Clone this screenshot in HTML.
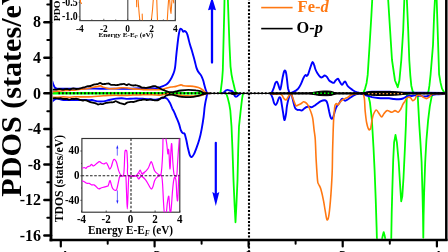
<!DOCTYPE html>
<html><head><meta charset="utf-8"><title>PDOS</title>
<style>html,body{margin:0;padding:0;background:#fff;overflow:hidden}svg{display:block}</style>
</head><body>
<svg width="448" height="252" viewBox="0 0 448 252">
<rect width="448" height="252" fill="#fff"/>
<text transform="translate(21.2,196.7) rotate(-90) scale(1.005,1)" font-family="Liberation Serif, serif" font-weight="bold" font-size="30" fill="#000">PDOS (states/eV)</text>
<g clip-path="url(#clipmain)"><g transform="translate(0,0.3)">
<line x1="52" y1="93.07" x2="208" y2="93.07" stroke="#00ff00" stroke-width="2.5"/>
<path d="M220.0,92.9 L220.7,91.1 L221.4,85.4 L222.1,79.7 L222.8,70.0 L223.3,50.0 L223.8,30.0 L224.3,10.0 L224.6,-6.0 L227.6,-6.0 L227.9,0.0 L228.6,20.0 L229.5,45.0 L230.5,66.0 L231.5,74.0 L232.6,79.7 L234.0,85.4 L235.0,90.0 L236.4,92.9 L238.0,93.1" fill="none" stroke="#00ff00" stroke-width="1.8" stroke-linejoin="round" stroke-linecap="round" />
<path d="M362.0,93.1 L363.5,92.4 L365.1,88.3 L366.6,82.6 L367.7,74.6 L369.6,44.8 L371.4,14.9 L372.2,0.0 L372.5,-6.0 L387.9,-6.0 L388.2,0.0 L390.1,29.9 L392.0,59.7 L395.0,80.2 L397.7,86.9 L399.4,80.2 L401.3,59.7 L403.2,29.9 L404.3,0.0 L404.6,-6.0 L406.6,-6.0 L406.9,0.0 L408.2,30.0 L409.3,60.0 L410.3,75.0 L411.3,85.4 L412.7,91.2 L414.4,92.6 L418.0,93.1" fill="none" stroke="#00ff00" stroke-width="1.8" stroke-linejoin="round" stroke-linecap="round" />
<path d="M427.0,93.1 L428.4,91.5 L429.4,85.4 L430.6,74.0 L433.0,44.8 L434.1,14.9 L434.9,0.0 L435.2,-6.0 L436.5,-6.0 L436.7,0.0 L437.9,37.3 L439.1,74.0 L440.6,82.6 L442.0,88.3 L444.1,91.9 L446.0,92.6" fill="none" stroke="#00ff00" stroke-width="1.8" stroke-linejoin="round" stroke-linecap="round" />
<path d="M225.5,93.1 L226.4,93.5 L227.9,98.3 L229.3,104.0 L230.3,110.0 L231.5,126.0 L232.5,150.0 L233.5,180.0 L234.6,205.0 L235.5,222.0 L236.4,205.0 L237.5,180.0 L238.2,150.0 L239.0,126.0 L240.7,110.0 L241.4,104.0 L242.1,98.3 L242.9,93.5 L244.0,93.1" fill="none" stroke="#00ff00" stroke-width="1.8" stroke-linejoin="round" stroke-linecap="round" />
<path d="M366.5,93.1 L367.9,93.5 L369.9,101.9 L371.9,119.8 L373.5,147.2 L374.6,170.0 L375.7,198.6 L376.6,227.1 L376.9,238.6 L377.2,241.5 L381.5,241.5 L382.6,236.0 L383.7,231.8 L384.8,236.0 L385.8,241.5 L391.2,241.5 L391.4,230.0 L391.7,212.9 L392.3,190.0 L393.2,160.0 L394.1,142.0 L395.5,134.5 L396.9,142.0 L398.7,161.7 L400.0,183.0 L401.2,201.0 L402.3,196.0 L403.5,177.6 L405.0,145.9 L405.9,125.0 L406.5,105.0 L406.8,95.0 L408.0,93.1" fill="none" stroke="#00ff00" stroke-width="1.8" stroke-linejoin="round" stroke-linecap="round" />
<path d="M416.8,93.1 L417.7,95.0 L418.5,109.8 L419.3,125.0 L420.3,140.0 L421.6,161.7 L422.5,193.5 L423.0,215.0 L423.3,237.5 L423.6,215.0 L424.1,193.5 L425.2,161.7 L426.4,140.0 L428.1,120.0 L429.8,106.0 L431.5,97.0 L432.8,93.1" fill="none" stroke="#00ff00" stroke-width="1.8" stroke-linejoin="round" stroke-linecap="round" />
<path d="M52.0,101.5 C52.5,101.1 53.9,99.5 54.9,99.0 C55.9,98.5 56.3,98.2 57.7,98.3 C59.1,98.4 61.5,99.5 63.4,99.7 C65.3,99.9 67.2,99.7 69.1,99.7 C71.0,99.7 73.0,99.7 74.9,99.7 C76.8,99.7 78.7,99.7 80.6,99.7 C82.5,99.7 84.9,99.7 86.3,99.7 C87.7,99.8 88.1,100.0 89.1,100.0 C90.0,100.0 90.6,99.5 92.0,99.7 C93.4,99.9 95.8,100.9 97.7,101.1 C99.6,101.3 101.5,101.3 103.4,101.1 C105.3,100.9 107.0,100.2 109.1,99.7 C111.2,99.2 113.9,98.6 116.0,98.3 C118.1,98.0 119.8,98.0 121.7,98.0 C123.6,98.0 125.5,98.5 127.4,98.6 C129.3,98.6 131.2,98.3 133.1,98.3 C135.0,98.2 137.0,98.2 138.9,98.3 C140.8,98.3 142.7,98.5 144.6,98.6 C146.5,98.7 148.6,98.8 150.3,99.0 C152.0,99.2 153.3,99.5 154.6,99.5 C155.9,99.5 156.9,99.2 158.0,99.0 C159.1,98.8 159.9,98.3 161.0,98.0 C162.1,97.7 163.7,97.3 164.8,97.4 C165.8,97.5 166.4,97.8 167.2,98.6 C168.1,99.4 168.9,100.8 169.8,102.4 C170.6,104.0 171.5,106.3 172.2,108.0 C173.0,109.7 173.8,110.8 174.5,112.5 C175.2,114.2 175.9,116.0 176.7,117.9 C177.5,119.8 178.4,121.8 179.1,123.8 C179.8,125.8 180.2,128.3 180.8,129.8 C181.4,131.3 182.1,132.3 182.7,132.9 C183.3,133.5 184.0,132.4 184.6,133.5 C185.2,134.6 185.6,137.0 186.2,139.3 C186.8,141.7 187.3,145.0 187.9,147.6 C188.5,150.2 189.2,153.3 189.8,154.8 C190.4,156.3 191.0,156.9 191.7,156.7 C192.4,156.5 193.3,155.1 194.1,153.6 C194.9,152.1 195.6,150.0 196.5,147.6 C197.4,145.2 198.4,142.5 199.3,139.3 C200.2,136.1 201.0,132.4 201.7,128.6 C202.4,124.8 203.1,120.3 203.6,116.7 C204.1,113.1 204.3,109.6 204.6,107.1 C204.9,104.6 205.2,103.2 205.5,101.5 C205.8,99.8 206.2,98.3 206.5,97.0 C206.8,95.7 206.9,94.2 207.3,93.6 C207.7,92.9 208.7,93.2 209.0,93.1" fill="none" stroke="#0000ff" stroke-width="1.9" stroke-linejoin="round" stroke-linecap="round" />
<path d="M233.3,93.1 C233.5,93.3 234.0,94.1 234.3,94.6 C234.7,95.1 235.0,96.0 235.4,96.3 C235.8,96.6 236.3,96.5 236.8,96.2 C237.3,95.9 238.0,95.1 238.6,94.6 C239.2,94.1 240.2,93.5 240.5,93.3" fill="none" stroke="#0000ff" stroke-width="1.9" stroke-linejoin="round" stroke-linecap="round" />
<path d="M270.5,93.1 C270.9,93.8 272.0,96.0 272.6,97.6 C273.2,99.2 273.5,101.4 274.0,102.6 C274.5,103.8 275.2,104.7 275.7,104.7 C276.2,104.7 276.6,103.7 277.1,102.6 C277.6,101.5 278.2,99.2 278.6,98.3 C279.0,97.3 279.3,96.8 279.7,96.9 C280.1,97.0 280.3,96.5 280.9,99.0 C281.4,101.5 282.4,108.4 283.0,111.9 C283.6,115.4 283.9,119.5 284.4,119.8 C284.9,120.1 285.6,116.2 286.0,113.9 C286.4,111.6 286.5,108.4 286.9,106.0 C287.3,103.6 287.8,101.4 288.3,99.5 C288.8,97.6 289.2,95.7 289.7,94.7 C290.2,93.7 290.8,92.7 291.3,93.4 C291.8,94.1 292.2,97.0 292.7,98.8 C293.1,100.6 293.6,102.6 294.0,104.2 C294.4,105.8 294.8,107.3 295.4,108.2 C296.0,109.1 296.7,109.4 297.4,109.6 C298.1,109.8 298.7,109.5 299.4,109.6 C300.1,109.7 300.8,110.3 301.5,110.2 C302.2,110.1 302.7,109.5 303.5,108.9 C304.3,108.4 305.3,107.4 306.2,106.9 C307.1,106.5 308.0,106.2 308.9,106.2 C309.8,106.2 310.7,107.0 311.6,106.9 C312.5,106.8 313.4,106.1 314.3,105.5 C315.2,104.9 315.9,104.3 317.0,103.5 C318.1,102.7 319.8,101.4 321.0,100.8 C322.2,100.2 323.5,99.9 324.4,99.9 C325.3,99.9 325.8,100.1 326.4,100.8 C326.9,101.5 327.2,102.5 327.7,104.2 C328.1,105.9 328.7,108.9 329.1,110.9 C329.6,112.9 329.9,115.0 330.4,116.3 C330.8,117.6 331.4,118.4 331.8,118.5 C332.2,118.6 332.7,118.0 333.1,117.0 C333.6,116.0 334.1,113.8 334.5,112.3 C334.9,110.8 335.4,109.3 335.8,108.2 C336.2,107.1 336.6,106.4 337.2,105.5 C337.8,104.6 338.6,103.8 339.2,103.0 C339.8,102.2 340.0,101.3 340.5,100.5 C341.0,99.7 341.5,98.3 342.3,98.3 C343.1,98.3 344.2,100.3 345.1,100.4 C346.1,100.5 347.0,99.6 348.0,99.0 C349.0,98.4 349.9,97.6 350.9,96.9 C351.8,96.2 352.8,95.6 353.7,95.1 C354.6,94.6 355.7,94.0 356.6,93.7 C357.6,93.4 358.5,93.2 359.4,93.2 C360.3,93.2 360.9,93.3 362.0,93.6 C363.1,93.9 364.3,94.5 366.0,95.0 C367.7,95.5 370.0,96.3 372.0,96.8 C374.0,97.2 376.0,97.5 378.0,97.7 C380.0,97.9 382.2,97.9 384.0,97.9 C385.8,98.0 387.3,97.9 389.0,98.0 C390.7,98.1 392.3,98.5 394.0,98.7 C395.7,98.9 397.5,99.1 399.0,99.0 C400.5,98.9 401.8,98.7 403.0,98.2 C404.2,97.8 405.5,96.8 406.5,96.3 C407.5,95.8 408.2,95.5 409.1,95.4 C410.0,95.3 411.0,95.8 412.0,95.7 C413.0,95.7 413.9,95.1 414.9,95.1 C415.8,95.0 416.8,95.4 417.7,95.4 C418.6,95.5 419.7,95.3 420.6,95.4 C421.6,95.5 422.4,96.0 423.4,96.1 C424.3,96.2 425.4,96.2 426.3,96.1 C427.2,96.0 428.2,95.6 429.1,95.4 C430.1,95.2 430.9,94.9 432.0,94.7 C433.1,94.5 433.7,94.2 436.0,94.0 C438.3,93.8 444.3,93.6 446.0,93.5" fill="none" stroke="#0000ff" stroke-width="1.9" stroke-linejoin="round" stroke-linecap="round" />
<path d="M52.3,81.0 C52.5,81.6 53.0,83.4 53.5,84.5 C54.0,85.6 54.4,86.8 55.0,87.4 C55.6,88.1 56.2,88.2 57.0,88.4 C57.8,88.6 57.8,88.5 60.0,88.5 C62.2,88.5 66.7,88.3 70.0,88.3 C73.3,88.3 76.7,88.5 80.0,88.5 C83.3,88.5 86.7,88.2 90.0,88.2 C93.3,88.2 96.7,88.5 100.0,88.5 C103.3,88.5 106.7,88.3 110.0,88.3 C113.3,88.3 116.7,88.4 120.0,88.4 C123.3,88.4 126.4,88.6 130.0,88.5 C133.6,88.4 138.8,88.0 141.7,88.0 C144.6,88.0 145.5,88.3 147.4,88.3 C149.3,88.3 151.7,88.0 153.1,88.0 C154.5,88.0 154.9,88.3 156.0,88.1 C157.1,87.9 158.5,87.3 159.8,86.9 C161.0,86.5 162.2,86.2 163.5,85.6 C164.8,85.0 166.2,84.4 167.3,83.4 C168.4,82.4 169.3,81.3 170.3,79.7 C171.3,78.1 172.3,76.0 173.1,74.0 C173.9,72.0 174.4,71.4 175.0,67.6 C175.6,63.8 176.1,56.1 176.7,51.0 C177.3,45.9 177.9,40.3 178.4,36.7 C178.9,33.1 179.4,30.9 179.8,29.5 C180.2,28.1 180.4,28.3 180.8,28.3 C181.2,28.3 181.8,29.0 182.2,29.5 C182.6,30.0 182.7,31.2 183.1,31.4 C183.5,31.6 184.1,30.6 184.6,30.7 C185.1,30.8 185.7,31.3 186.2,31.9 C186.7,32.5 187.0,33.1 187.4,34.3 C187.8,35.5 188.2,37.4 188.6,39.0 C189.0,40.6 189.3,42.0 189.8,43.8 C190.3,45.6 191.1,47.8 191.7,49.8 C192.3,51.8 192.8,53.7 193.4,55.7 C194.0,57.7 194.5,59.7 195.0,61.7 C195.5,63.7 196.0,66.0 196.5,67.6 C197.0,69.2 197.5,70.1 198.1,71.2 C198.7,72.3 199.7,73.0 200.3,74.0 C201.0,75.0 201.5,75.9 202.0,77.0 C202.5,78.1 202.9,79.2 203.3,80.5 C203.7,81.8 203.9,82.9 204.3,84.5 C204.7,86.1 205.4,88.6 205.9,90.0 C206.4,91.4 206.7,92.3 207.2,92.8 C207.7,93.3 208.7,93.0 209.0,93.1" fill="none" stroke="#0000ff" stroke-width="1.9" stroke-linejoin="round" stroke-linecap="round" />
<path d="M222.8,93.0 C223.1,92.8 223.9,92.1 224.4,91.6 C224.9,91.1 225.4,90.3 226.0,90.0 C226.6,89.7 227.3,89.5 228.0,89.6 C228.7,89.6 229.3,90.1 230.0,90.3 C230.7,90.5 231.4,90.5 232.0,90.8 C232.6,91.1 232.9,91.8 233.3,92.2 C233.7,92.6 234.0,92.9 234.2,93.1" fill="none" stroke="#0000ff" stroke-width="1.9" stroke-linejoin="round" stroke-linecap="round" />
<path d="M270.5,93.2 C270.7,93.1 271.2,93.3 271.7,92.5 C272.2,91.7 272.9,90.0 273.5,88.4 C274.1,86.8 274.8,84.1 275.3,82.9 C275.9,81.7 276.3,81.2 276.8,81.4 C277.3,81.6 277.6,82.5 278.1,83.8 C278.6,85.1 279.4,89.0 279.9,89.3 C280.4,89.6 280.8,87.6 281.2,85.6 C281.6,83.6 282.1,79.8 282.6,77.4 C283.1,75.0 283.6,72.2 284.1,71.0 C284.6,69.8 285.0,70.0 285.4,70.5 C285.8,71.0 286.0,72.0 286.3,73.8 C286.6,75.6 286.9,78.7 287.2,81.1 C287.5,83.5 287.7,86.4 288.1,88.4 C288.6,90.4 289.3,92.3 289.9,93.0 C290.5,93.7 290.9,92.8 291.8,92.4 C292.7,92.0 294.3,91.3 295.4,90.6 C296.5,89.9 297.3,89.5 298.2,88.4 C299.1,87.3 300.0,85.6 300.9,83.8 C301.8,82.0 302.8,78.9 303.6,77.4 C304.4,75.9 305.0,75.0 305.5,74.7 C306.0,74.4 306.4,75.8 306.8,75.6 C307.2,75.4 307.7,75.0 308.2,73.8 C308.7,72.6 309.4,70.1 310.0,68.3 C310.6,66.5 311.4,63.9 311.9,62.8 C312.4,61.7 312.4,61.6 312.8,61.9 C313.2,62.2 313.7,63.4 314.1,64.6 C314.6,65.8 314.9,67.8 315.5,69.2 C316.1,70.6 316.6,71.7 317.4,72.9 C318.2,74.1 319.4,75.8 320.1,76.5 C320.9,77.2 321.1,77.3 321.9,77.1 C322.7,76.9 323.9,75.3 324.7,75.2 C325.5,75.1 326.1,75.7 326.9,76.5 C327.6,77.3 328.3,79.3 329.2,80.2 C330.1,81.1 331.2,81.6 332.0,82.0 C332.8,82.4 333.2,82.8 333.8,82.5 C334.4,82.2 334.9,80.9 335.6,80.2 C336.3,79.5 337.4,78.4 338.0,78.5 C338.6,78.6 338.8,80.0 339.5,81.0 C340.2,82.0 341.2,84.3 342.0,84.5 C342.8,84.7 343.4,82.5 344.0,82.0 C344.6,81.5 344.9,80.9 345.5,81.5 C346.1,82.1 346.6,84.3 347.5,85.5 C348.4,86.7 349.9,87.7 350.9,88.5 C351.9,89.3 352.8,89.8 353.7,90.4 C354.6,91.0 355.7,91.5 356.6,91.9 C357.6,92.3 358.4,92.4 359.4,92.6 C360.3,92.8 360.2,93.2 362.3,93.0 C364.4,92.8 367.4,91.8 372.0,91.5 C376.6,91.2 385.3,91.4 390.0,91.5 C394.7,91.6 390.7,92.1 400.0,92.3 C409.3,92.5 438.3,92.5 446.0,92.6" fill="none" stroke="#0000ff" stroke-width="1.9" stroke-linejoin="round" stroke-linecap="round" />
<path d="M52.0,91.5 C53.0,91.4 55.8,91.0 57.7,90.8 C59.6,90.6 61.5,90.5 63.4,90.4 C65.3,90.3 67.2,90.2 69.1,90.1 C71.0,90.0 73.0,90.0 74.9,89.8 C76.8,89.6 78.7,89.2 80.6,89.0 C82.5,88.8 84.4,88.7 86.3,88.4 C88.2,88.1 90.1,87.6 92.0,87.2 C93.9,86.8 96.3,86.3 97.7,86.1 C99.1,85.8 99.6,85.5 100.6,85.6 C101.5,85.8 102.0,86.5 103.4,87.0 C104.8,87.4 107.0,88.2 109.1,88.4 C111.2,88.6 113.9,88.3 116.0,88.2 C118.1,88.0 119.8,87.6 121.7,87.5 C123.6,87.4 125.5,87.5 127.4,87.7 C129.3,87.9 131.2,88.4 133.1,88.6 C135.0,88.8 137.0,88.8 138.9,88.9 C140.8,89.0 142.7,89.2 144.6,89.3 C146.5,89.4 148.4,89.3 150.3,89.3 C152.2,89.3 154.2,89.4 156.0,89.4 C157.8,89.4 159.3,89.4 161.0,89.2 C162.7,89.0 164.3,88.4 166.0,88.0 C167.7,87.6 169.3,87.0 171.0,86.7 C172.7,86.4 174.3,86.4 176.0,86.1 C177.7,85.8 179.8,84.7 181.0,84.6 C182.2,84.5 182.2,85.3 183.5,85.5 C184.8,85.7 186.8,85.8 188.5,85.8 C190.2,85.9 191.8,85.8 193.5,86.1 C195.2,86.3 197.0,86.8 198.5,87.3 C200.0,87.9 201.2,88.5 202.2,89.2 C203.3,89.9 203.9,91.1 204.8,91.7 C205.6,92.3 206.4,92.8 207.2,93.0 C208.1,93.2 209.5,93.1 210.0,93.1" fill="none" stroke="#ff7812" stroke-width="1.6" stroke-linejoin="round" stroke-linecap="round" />
<path d="M52.0,96.9 C53.0,96.9 55.8,97.0 57.7,96.9 C59.6,96.9 61.5,96.6 63.4,96.6 C65.3,96.6 67.2,96.9 69.1,96.9 C71.0,96.9 73.0,96.5 74.9,96.4 C76.8,96.4 78.7,96.6 80.6,96.6 C82.5,96.6 84.4,96.6 86.3,96.6 C88.2,96.6 90.1,96.5 92.0,96.4 C93.9,96.3 95.8,96.1 97.7,95.9 C99.6,95.7 101.5,95.5 103.4,95.4 C105.3,95.3 107.0,95.2 109.1,95.1 C111.2,95.0 113.9,95.0 116.0,95.0 C118.1,95.0 119.8,95.1 121.7,95.1 C123.6,95.1 125.5,95.2 127.4,95.1 C129.3,95.0 131.2,94.8 133.1,94.7 C135.0,94.6 137.0,94.8 138.9,94.7 C140.8,94.7 142.7,94.5 144.6,94.4 C146.5,94.4 148.4,94.4 150.3,94.4 C152.2,94.5 154.1,94.7 156.0,94.7 C157.9,94.8 160.3,94.8 161.7,94.7 C163.1,94.6 163.6,94.2 164.6,94.0 C165.6,93.8 166.4,93.3 167.4,93.3 C168.4,93.3 169.4,93.8 170.3,94.0 C171.2,94.2 171.5,94.5 173.1,94.7 C174.7,94.9 177.9,94.8 180.0,94.9 C182.1,95.0 183.8,95.3 185.7,95.4 C187.6,95.5 189.5,95.7 191.4,95.7 C193.3,95.7 195.4,95.5 197.1,95.4 C198.8,95.3 200.2,95.3 201.4,95.1 C202.6,94.9 203.4,94.3 204.3,94.0 C205.2,93.7 206.6,93.2 207.1,93.1" fill="none" stroke="#ff7812" stroke-width="1.6" stroke-linejoin="round" stroke-linecap="round" />
<path d="M271.1,93.3 C271.8,93.4 274.0,94.0 275.4,94.0 C276.8,94.0 278.6,93.2 279.7,93.3 C280.8,93.4 281.2,93.9 281.9,94.7 C282.6,95.5 283.3,97.5 284.0,98.3 C284.7,99.1 285.5,99.8 286.1,99.7 C286.7,99.6 287.1,98.4 287.6,97.6 C288.1,96.8 288.5,95.7 289.0,95.1 C289.5,94.5 290.0,94.3 290.4,94.0 C290.8,93.7 290.9,92.8 291.3,93.4 C291.7,94.0 292.1,95.8 292.7,97.4 C293.3,99.0 294.1,101.5 294.7,102.8 C295.3,104.1 295.5,105.2 296.1,105.5 C296.7,105.8 297.3,105.1 298.1,104.8 C298.9,104.5 299.9,104.0 300.8,103.5 C301.7,103.0 302.7,101.7 303.5,101.5 C304.3,101.3 304.8,101.8 305.5,102.2 C306.2,102.7 306.8,103.2 307.5,104.2 C308.2,105.2 308.8,106.6 309.5,108.2 C310.2,109.8 311.0,111.8 311.6,113.6 C312.2,115.4 312.5,116.3 312.9,119.0 C313.3,121.7 313.7,126.4 314.1,129.8 C314.5,133.2 315.0,134.6 315.3,139.7 C315.6,144.8 315.8,153.5 316.2,160.3 C316.6,167.1 317.2,176.6 317.6,180.5 C318.0,184.4 318.1,182.5 318.6,183.9 C319.2,185.3 320.1,186.2 320.9,189.0 C321.7,191.8 322.9,197.1 323.6,200.8 C324.3,204.5 324.7,207.9 325.3,211.0 C325.9,214.1 326.4,218.6 327.0,219.4 C327.6,220.2 328.1,219.1 328.7,216.0 C329.3,212.9 329.8,207.8 330.4,200.8 C331.0,193.8 331.7,182.3 332.1,173.8 C332.5,165.3 332.4,157.3 332.6,150.0 C332.8,142.7 333.0,134.8 333.2,129.8 C333.4,124.8 333.4,123.5 333.6,119.8 C333.8,116.1 334.4,110.4 334.6,107.9 C334.9,105.4 334.8,105.5 335.1,104.7 C335.4,103.9 336.1,103.3 336.6,103.3 C337.1,103.3 337.5,104.8 338.0,104.7 C338.5,104.6 338.7,103.4 339.4,102.6 C340.1,101.8 341.4,100.4 342.3,99.7 C343.2,99.0 344.2,98.8 345.1,98.3 C346.1,97.8 347.0,97.5 348.0,96.9 C349.0,96.3 349.9,95.2 350.9,94.7 C351.8,94.2 352.8,94.2 353.7,94.0 C354.6,93.8 355.7,93.5 356.6,93.3 C357.6,93.1 358.3,93.0 359.4,93.0 C360.5,93.0 362.2,92.4 363.0,93.3 C363.8,94.2 364.0,95.3 364.4,98.3 C364.8,101.3 364.8,107.1 365.2,111.1 C365.6,115.1 366.0,119.2 366.6,122.2 C367.2,125.2 368.1,128.3 368.8,129.2 C369.5,130.1 370.1,129.4 370.7,127.8 C371.2,126.2 371.6,121.7 372.1,119.4 C372.6,117.1 372.8,115.5 373.5,113.9 C374.2,112.3 375.4,109.8 376.3,109.7 C377.2,109.6 378.3,112.3 379.2,113.5 C380.1,114.7 380.9,116.6 381.7,116.6 C382.5,116.6 383.0,114.5 383.9,113.5 C384.8,112.5 385.8,110.6 387.1,110.3 C388.4,110.0 390.6,111.9 391.9,111.9 C393.2,111.9 393.9,110.3 395.0,110.3 C396.1,110.3 397.2,112.2 398.2,111.9 C399.2,111.6 400.0,110.0 400.8,108.7 C401.6,107.4 402.3,105.2 403.0,103.9 C403.7,102.6 404.3,102.0 404.9,101.1 C405.4,100.2 405.7,99.0 406.3,98.3 C406.9,97.6 407.7,97.0 408.4,96.9 C409.1,96.8 409.9,97.0 410.6,97.6 C411.3,98.2 412.0,100.2 412.7,100.4 C413.4,100.6 414.3,99.7 414.9,99.0 C415.5,98.3 415.8,96.8 416.3,96.1 C416.8,95.4 417.0,94.9 417.7,94.7 C418.4,94.5 419.7,94.7 420.6,95.1 C421.6,95.5 422.4,96.4 423.4,96.9 C424.3,97.4 425.4,98.3 426.3,98.3 C427.2,98.3 428.3,97.5 429.1,96.9 C429.9,96.3 430.5,95.3 431.3,94.7 C432.1,94.1 431.6,93.7 434.0,93.5 C436.4,93.3 444.0,93.3 446.0,93.3" fill="none" stroke="#ff7812" stroke-width="1.6" stroke-linejoin="round" stroke-linecap="round" />
<path d="M52.0,89.4 C52.3,89.4 53.3,89.2 54.0,89.2 C54.7,89.1 55.5,89.3 56.2,89.3 C56.9,89.2 57.7,88.9 58.4,88.8 C59.1,88.7 59.9,88.7 60.6,88.8 C61.3,88.9 62.1,89.4 62.8,89.4 C63.5,89.4 64.3,89.0 65.0,88.8 C65.7,88.7 66.5,88.6 67.2,88.6 C67.9,88.7 68.7,89.3 69.4,89.3 C70.1,89.3 70.9,88.7 71.6,88.5 C72.3,88.3 73.1,88.0 73.8,88.0 C74.5,88.1 75.3,88.6 76.0,88.7 C76.7,88.8 77.5,88.6 78.2,88.5 C78.9,88.4 79.7,88.3 80.4,88.1 C81.1,87.9 81.9,87.5 82.6,87.3 C83.3,87.1 84.1,87.2 84.8,87.0 C85.5,86.8 86.3,86.2 87.0,86.0 C87.7,85.8 88.5,86.0 89.2,85.9 C89.9,85.8 90.7,85.6 91.4,85.3 C92.1,85.1 92.9,84.5 93.6,84.3 C94.3,84.1 95.1,84.1 95.8,84.0 C96.5,83.9 97.3,83.9 98.0,83.7 C98.7,83.4 99.5,82.7 100.2,82.7 C100.9,82.7 101.7,83.6 102.4,83.7 C103.1,83.9 103.9,83.8 104.6,83.7 C105.3,83.6 106.1,83.4 106.8,83.3 C107.5,83.3 108.3,83.1 109.0,83.3 C109.7,83.6 110.5,84.4 111.2,84.6 C111.9,84.8 112.7,84.4 113.4,84.5 C114.1,84.5 114.9,84.8 115.6,84.8 C116.3,84.9 117.1,84.8 117.8,84.7 C118.5,84.6 119.3,84.3 120.0,84.1 C120.7,84.0 121.5,83.9 122.2,83.8 C122.9,83.7 123.7,83.6 124.4,83.7 C125.1,83.9 125.9,84.7 126.6,84.7 C127.3,84.7 128.1,83.9 128.8,83.9 C129.5,83.9 130.3,84.6 131.0,84.8 C131.7,85.0 132.5,85.2 133.2,85.2 C133.9,85.2 134.7,84.8 135.4,84.8 C136.1,84.9 136.9,85.2 137.6,85.4 C138.3,85.6 139.1,85.8 139.8,86.1 C140.5,86.4 141.3,87.1 142.0,87.3 C142.7,87.5 143.5,87.3 144.2,87.3 C144.9,87.4 145.7,87.5 146.4,87.5 C147.1,87.4 147.9,87.2 148.6,87.0 C149.3,86.9 150.1,86.8 150.8,86.7 C151.5,86.5 152.3,86.0 153.0,85.9 C153.7,85.8 154.5,85.8 155.2,85.9 C155.9,86.1 156.7,86.5 157.4,86.9 C158.1,87.2 158.9,87.6 159.6,88.0 C160.3,88.4 161.1,88.9 161.8,89.2 C162.5,89.6 163.3,89.7 164.0,89.9 C164.7,90.2 165.5,90.6 166.2,90.9 C166.9,91.2 167.7,91.4 168.4,91.6 C169.1,91.8 169.5,91.9 170.3,91.9 C171.1,91.9 172.2,91.9 173.1,91.8 C174.0,91.7 174.7,91.5 176.0,91.2 C177.3,90.9 178.9,90.5 181.0,90.2 C183.1,89.9 186.0,89.6 188.5,89.6 C191.0,89.6 193.9,89.8 196.0,90.1 C198.1,90.3 199.8,90.6 201.0,91.1 C202.2,91.5 202.7,92.5 203.5,92.8 C204.3,93.1 205.6,93.0 206.0,93.1" fill="none" stroke="#000" stroke-width="1.8" stroke-linejoin="round" stroke-linecap="round" />
<path d="M52.0,98.3 C52.3,98.3 53.3,98.1 54.0,98.0 C54.7,97.9 55.5,97.7 56.2,97.8 C56.9,97.8 57.7,98.2 58.4,98.2 C59.1,98.2 59.9,97.9 60.6,97.9 C61.3,98.0 62.1,98.4 62.8,98.6 C63.5,98.7 64.3,98.7 65.0,98.7 C65.7,98.7 66.5,98.6 67.2,98.7 C67.9,98.8 68.7,99.4 69.4,99.4 C70.1,99.3 70.9,98.8 71.6,98.6 C72.3,98.5 73.1,98.7 73.8,98.7 C74.5,98.7 75.3,98.4 76.0,98.4 C76.7,98.5 77.5,98.7 78.2,98.9 C78.9,99.1 79.7,99.4 80.4,99.6 C81.1,99.8 81.9,100.2 82.6,100.2 C83.3,100.3 84.1,99.9 84.8,99.9 C85.5,99.9 86.3,100.1 87.0,100.3 C87.7,100.6 88.5,101.0 89.2,101.3 C89.9,101.6 90.7,101.9 91.4,102.1 C92.1,102.3 92.9,102.3 93.6,102.5 C94.3,102.6 95.1,102.7 95.8,103.0 C96.5,103.3 97.3,104.1 98.0,104.2 C98.7,104.3 99.5,103.6 100.2,103.6 C100.9,103.5 101.7,104.0 102.4,103.9 C103.1,103.8 103.9,103.2 104.6,103.0 C105.3,102.7 106.1,102.7 106.8,102.6 C107.5,102.4 108.3,102.4 109.0,102.3 C109.7,102.2 110.5,102.0 111.2,102.0 C111.9,101.9 112.7,102.1 113.4,101.9 C114.1,101.8 114.9,100.9 115.6,100.9 C116.3,100.9 117.1,101.6 117.8,101.9 C118.5,102.2 119.3,102.5 120.0,102.8 C120.7,103.0 121.5,103.1 122.2,103.3 C122.9,103.5 123.7,104.1 124.4,104.0 C125.1,103.9 125.9,103.0 126.6,102.6 C127.3,102.3 128.1,102.0 128.8,101.9 C129.5,101.7 130.3,101.6 131.0,101.5 C131.7,101.5 132.5,101.7 133.2,101.7 C133.9,101.6 134.7,101.3 135.4,101.1 C136.1,100.9 136.9,100.6 137.6,100.4 C138.3,100.2 139.1,100.1 139.8,99.9 C140.5,99.8 141.3,99.7 142.0,99.5 C142.7,99.4 143.5,99.2 144.2,99.2 C144.9,99.3 145.7,99.6 146.4,99.7 C147.1,99.7 147.9,99.7 148.6,99.6 C149.3,99.5 150.1,99.2 150.8,99.2 C151.5,99.3 152.3,99.6 153.0,99.8 C153.7,99.9 154.5,100.1 155.2,100.1 C155.9,100.1 156.7,100.2 157.4,100.0 C158.1,99.8 158.9,99.3 159.6,98.9 C160.3,98.4 161.1,97.7 161.8,97.4 C162.5,97.1 163.3,97.3 164.0,97.0 C164.7,96.6 165.5,95.6 166.2,95.2 C166.9,94.8 167.4,94.8 168.4,94.6 C169.4,94.5 170.6,94.2 172.2,94.4 C173.9,94.6 176.2,95.7 178.5,96.1 C180.8,96.5 183.5,96.7 186.0,96.8 C188.5,96.8 191.4,96.7 193.5,96.5 C195.6,96.3 197.0,95.9 198.5,95.5 C200.0,95.1 201.0,94.7 202.2,94.2 C203.5,93.8 205.4,93.3 206.0,93.1" fill="none" stroke="#000" stroke-width="1.8" stroke-linejoin="round" stroke-linecap="round" />
<line x1="204" y1="93.07" x2="271" y2="93.07" stroke="#000" stroke-width="1.1"/>
<path d="M229.5,93.07 C231.5,91.6 236,91.8 239,93.07 C236,94.6 231.5,94.8 229.5,93.07 Z" fill="#000" stroke="#000" stroke-width="0.8"/>
<line x1="270" y1="93.07" x2="446" y2="93.07" stroke="#000" stroke-width="2.1"/>
<line x1="206" y1="93.07" x2="446" y2="93.07" stroke="#000" stroke-width="2.0" stroke-dasharray="1.8 1.88"/>
<path d="M309.0,93.1 C309.5,93.0 310.8,92.5 312.0,92.3 C313.2,92.0 314.7,91.8 316.0,91.6 C317.3,91.4 318.3,91.2 320.0,91.0 C321.7,90.8 324.2,90.7 326.0,90.7 C327.8,90.7 329.7,90.8 331.0,91.0 C332.3,91.2 333.1,91.7 334.0,92.0 C334.9,92.3 336.1,92.9 336.5,93.1 C336.9,93.3 336.9,92.9 336.5,93.1 C336.1,93.3 334.9,93.9 334.0,94.2 C333.1,94.5 332.3,94.9 331.0,95.1 C329.7,95.3 327.8,95.4 326.0,95.4 C324.2,95.4 321.7,95.3 320.0,95.2 C318.3,95.1 317.3,94.8 316.0,94.6 C314.7,94.4 313.2,94.2 312.0,93.9 C310.8,93.7 309.5,93.2 309.0,93.1 Z" fill="#000" stroke="#000" stroke-width="1"/>
<path d="M363.5,93.1 C363.9,92.9 364.6,92.2 366.0,91.9 C367.4,91.6 369.7,91.4 372.0,91.3 C374.3,91.2 377.0,91.2 380.0,91.2 C383.0,91.2 387.0,91.2 390.0,91.3 C393.0,91.4 395.7,91.4 398.0,91.6 C400.3,91.8 402.2,92.0 404.0,92.2 C405.8,92.5 408.2,92.9 409.0,93.1 C409.8,93.2 409.8,92.9 409.0,93.1 C408.2,93.2 405.8,93.7 404.0,94.0 C402.2,94.3 400.3,94.5 398.0,94.7 C395.7,94.9 393.0,95.0 390.0,95.1 C387.0,95.2 383.0,95.2 380.0,95.2 C377.0,95.2 374.3,95.2 372.0,95.0 C369.7,94.8 367.4,94.6 366.0,94.3 C364.6,94.0 363.9,93.3 363.5,93.1 Z" fill="#000" stroke="#000" stroke-width="1"/>
<line x1="313" y1="93.07" x2="333" y2="93.07" stroke="#00ff00" stroke-width="1.5" stroke-dasharray="1.6 2.06"/>
<line x1="368" y1="93.36999999999999" x2="404" y2="93.36999999999999" stroke="#f0a040" stroke-width="1.4" stroke-dasharray="1.6 2.06"/>
<line x1="58.4" y1="93.07" x2="206" y2="93.07" stroke="#000" stroke-width="2.0" stroke-dasharray="1.6 2.08"/>
</g></g>
<line x1="249.0" y1="-1.7" x2="249.0" y2="252" stroke="#000" stroke-width="2.1" stroke-dasharray="2 1.65"/>
<line x1="212.0" y1="9" x2="212.0" y2="62.5" stroke="#0000ff" stroke-width="2.3" stroke-linecap="round"/>
<path d="M208.0,10.2 L212.0,-3 L216.0,10.2 L212.0,9.2 Z" fill="#0000ff"/>
<line x1="215.8" y1="142.8" x2="215.8" y2="194" stroke="#0000ff" stroke-width="2.2" stroke-linecap="round"/>
<path d="M212.3,192 L215.8,206 L219.3,192 L215.8,194 Z" fill="#0000ff"/>
<g stroke="#000" stroke-width="2.5" fill="none">
<line x1="51.0" y1="-1" x2="51.0" y2="241.3" stroke-width="2.8"/>
<line x1="49.6" y1="240.0" x2="447.5" y2="240.0" stroke-width="2.6"/>
<line x1="446.3" y1="-1" x2="446.3" y2="241"/>
</g>
<line x1="44.4" y1="22.30" x2="51" y2="22.30" stroke="#000" stroke-width="2.5" stroke-linecap="round"/>
<line x1="44.4" y1="57.83" x2="51" y2="57.83" stroke="#000" stroke-width="2.5" stroke-linecap="round"/>
<line x1="44.4" y1="93.37" x2="51" y2="93.37" stroke="#000" stroke-width="2.5" stroke-linecap="round"/>
<line x1="44.4" y1="128.90" x2="51" y2="128.90" stroke="#000" stroke-width="2.5" stroke-linecap="round"/>
<line x1="44.4" y1="164.43" x2="51" y2="164.43" stroke="#000" stroke-width="2.5" stroke-linecap="round"/>
<line x1="44.4" y1="199.97" x2="51" y2="199.97" stroke="#000" stroke-width="2.5" stroke-linecap="round"/>
<line x1="44.4" y1="235.50" x2="51" y2="235.50" stroke="#000" stroke-width="2.5" stroke-linecap="round"/>
<line x1="47.3" y1="4.53" x2="51" y2="4.53" stroke="#000" stroke-width="2" stroke-linecap="round"/>
<line x1="47.3" y1="40.06" x2="51" y2="40.06" stroke="#000" stroke-width="2" stroke-linecap="round"/>
<line x1="47.3" y1="75.60" x2="51" y2="75.60" stroke="#000" stroke-width="2" stroke-linecap="round"/>
<line x1="47.3" y1="111.13" x2="51" y2="111.13" stroke="#000" stroke-width="2" stroke-linecap="round"/>
<line x1="47.3" y1="146.66" x2="51" y2="146.66" stroke="#000" stroke-width="2" stroke-linecap="round"/>
<line x1="47.3" y1="182.20" x2="51" y2="182.20" stroke="#000" stroke-width="2" stroke-linecap="round"/>
<line x1="47.3" y1="217.73" x2="51" y2="217.73" stroke="#000" stroke-width="2" stroke-linecap="round"/>
<text transform="translate(41.0,27.45) scale(1,1.11)" text-anchor="end" font-family="Liberation Serif, serif" font-weight="bold" font-size="16" fill="#000">8</text>
<text transform="translate(41.0,62.98) scale(1,1.11)" text-anchor="end" font-family="Liberation Serif, serif" font-weight="bold" font-size="16" fill="#000">4</text>
<text transform="translate(41.0,98.52) scale(1,1.11)" text-anchor="end" font-family="Liberation Serif, serif" font-weight="bold" font-size="16" fill="#000">0</text>
<text transform="translate(41.0,134.05) scale(1,1.11)" text-anchor="end" font-family="Liberation Serif, serif" font-weight="bold" font-size="16" fill="#000">-4</text>
<text transform="translate(41.0,169.58) scale(1,1.11)" text-anchor="end" font-family="Liberation Serif, serif" font-weight="bold" font-size="16" fill="#000">-8</text>
<text transform="translate(41.0,205.12) scale(1,1.11)" text-anchor="end" font-family="Liberation Serif, serif" font-weight="bold" font-size="16" fill="#000">-12</text>
<text transform="translate(41.0,240.65) scale(1,1.11)" text-anchor="end" font-family="Liberation Serif, serif" font-weight="bold" font-size="16" fill="#000">-16</text>
<line x1="60.8" y1="240" x2="60.8" y2="246.5" stroke="#000" stroke-width="2.2" stroke-linecap="round"/>
<line x1="154.6" y1="240" x2="154.6" y2="246.5" stroke="#000" stroke-width="2.2" stroke-linecap="round"/>
<line x1="248.6" y1="240" x2="248.6" y2="246.5" stroke="#000" stroke-width="2.2" stroke-linecap="round"/>
<line x1="342.7" y1="240" x2="342.7" y2="246.5" stroke="#000" stroke-width="2.2" stroke-linecap="round"/>
<line x1="436.9" y1="240" x2="436.9" y2="246.5" stroke="#000" stroke-width="2.2" stroke-linecap="round"/>
<line x1="107.7" y1="240" x2="107.7" y2="243.8" stroke="#000" stroke-width="2" stroke-linecap="round"/>
<line x1="201.6" y1="240" x2="201.6" y2="243.8" stroke="#000" stroke-width="2" stroke-linecap="round"/>
<line x1="295.6" y1="240" x2="295.6" y2="243.8" stroke="#000" stroke-width="2" stroke-linecap="round"/>
<line x1="389.8" y1="240" x2="389.8" y2="243.8" stroke="#000" stroke-width="2" stroke-linecap="round"/>
<text x="60.8" y="261.8" text-anchor="middle" font-family="Liberation Serif, serif" font-weight="bold" font-size="16" fill="#000">-4</text>
<text x="154.6" y="261.8" text-anchor="middle" font-family="Liberation Serif, serif" font-weight="bold" font-size="16" fill="#000">-2</text>
<text x="248.6" y="261.8" text-anchor="middle" font-family="Liberation Serif, serif" font-weight="bold" font-size="16" fill="#000">0</text>
<text x="342.7" y="261.8" text-anchor="middle" font-family="Liberation Serif, serif" font-weight="bold" font-size="16" fill="#000">2</text>
<text x="436.9" y="261.8" text-anchor="middle" font-family="Liberation Serif, serif" font-weight="bold" font-size="16" fill="#000">4</text>
<line x1="261.2" y1="7.6" x2="292.6" y2="7.6" stroke="#ff7812" stroke-width="1.6"/>
<text transform="translate(297.6,11.9) scale(1.03,1.06)" font-family="Liberation Serif, serif" font-weight="bold" font-size="16" fill="#ff7812">Fe-<tspan font-style="italic">d</tspan></text>
<line x1="261.2" y1="28.6" x2="292.6" y2="28.6" stroke="#000" stroke-width="1.6"/>
<text transform="translate(296.6,33) scale(1.02,1.03)" font-family="Liberation Serif, serif" font-weight="bold" font-size="16" fill="#000">O-<tspan font-style="italic">p</tspan></text>
<g>
<rect x="79.9" y="-30" width="95.4" height="50.6" fill="#fff" stroke="#444" stroke-width="1.2"/>
<line x1="127.8" y1="-1" x2="127.8" y2="20.6" stroke="#444" stroke-width="1.1"/>
<g clip-path="url(#clipins1)">
<path d="M80.3,-2.0 L80.5,2.0 L81.5,3.5" fill="none" stroke="#ff7812" stroke-width="1.1" stroke-linejoin="round" stroke-linecap="round" />
<path d="M136.5,-2.0 L136.7,6.8" fill="none" stroke="#ff7812" stroke-width="1.1" stroke-linejoin="round" stroke-linecap="round" />
<path d="M137.9,-2.0 L139.2,14.0 L139.8,20.0" fill="none" stroke="#ff7812" stroke-width="1.1" stroke-linejoin="round" stroke-linecap="round" />
<path d="M142.2,14.0 L142.4,20.0" fill="none" stroke="#ff7812" stroke-width="1.1" stroke-linejoin="round" stroke-linecap="round" />
<path d="M151.4,20.0 L152.5,10.0 L153.4,-2.0" fill="none" stroke="#ff7812" stroke-width="1.1" stroke-linejoin="round" stroke-linecap="round" />
<path d="M156.7,-2.0 L157.1,10.0 L157.5,20.0" fill="none" stroke="#ff7812" stroke-width="1.1" stroke-linejoin="round" stroke-linecap="round" />
<path d="M167.3,20.0 L168.0,8.0 L168.7,-2.0" fill="none" stroke="#ff7812" stroke-width="1.1" stroke-linejoin="round" stroke-linecap="round" />
<path d="M169.5,-2.0 L170.4,10.0 L171.0,13.5 L171.6,5.0 L172.2,-2.0" fill="none" stroke="#ff7812" stroke-width="1.1" stroke-linejoin="round" stroke-linecap="round" />
<path d="M173.0,-2.0 L173.8,3.0" fill="none" stroke="#ff7812" stroke-width="1.1" stroke-linejoin="round" stroke-linecap="round" />
</g>
<line x1="79.9" y1="20.6" x2="79.9" y2="18.8" stroke="#444" stroke-width="0.8"/>
<line x1="103.8" y1="20.6" x2="103.8" y2="18.8" stroke="#444" stroke-width="0.8"/>
<line x1="127.7" y1="20.6" x2="127.7" y2="18.8" stroke="#444" stroke-width="0.8"/>
<line x1="151.5" y1="20.6" x2="151.5" y2="18.8" stroke="#444" stroke-width="0.8"/>
<line x1="175.3" y1="20.6" x2="175.3" y2="18.8" stroke="#444" stroke-width="0.8"/>
<line x1="91.8" y1="20.6" x2="91.8" y2="19.4" stroke="#444" stroke-width="0.8"/>
<line x1="115.7" y1="20.6" x2="115.7" y2="19.4" stroke="#444" stroke-width="0.8"/>
<line x1="139.6" y1="20.6" x2="139.6" y2="19.4" stroke="#444" stroke-width="0.8"/>
<line x1="163.4" y1="20.6" x2="163.4" y2="19.4" stroke="#444" stroke-width="0.8"/>
<text transform="translate(79.9,32.0) scale(1,1.15)" text-anchor="middle" font-family="Liberation Serif, serif" font-weight="bold" font-size="9.4" fill="#000">-4</text>
<text transform="translate(103.8,32.0) scale(1,1.15)" text-anchor="middle" font-family="Liberation Serif, serif" font-weight="bold" font-size="9.4" fill="#000">-2</text>
<text transform="translate(127.7,32.0) scale(1,1.15)" text-anchor="middle" font-family="Liberation Serif, serif" font-weight="bold" font-size="9.4" fill="#000">0</text>
<text transform="translate(151.5,32.0) scale(1,1.15)" text-anchor="middle" font-family="Liberation Serif, serif" font-weight="bold" font-size="9.4" fill="#000">2</text>
<text transform="translate(175.3,32.0) scale(1,1.15)" text-anchor="middle" font-family="Liberation Serif, serif" font-weight="bold" font-size="9.4" fill="#000">4</text>
<text transform="translate(125.8,37.1) scale(0.95,0.9)" text-anchor="middle" font-family="Liberation Serif, serif" font-weight="bold" font-size="7.6" fill="#000">Energy E-E<tspan font-size="5.2" dy="1.4" font-style="italic">F</tspan><tspan dy="-1.4"> (eV)</tspan></text>
<text transform="translate(77.6,6.0) scale(1,1.28)" text-anchor="end" font-family="Liberation Serif, serif" font-weight="bold" font-size="9.9" fill="#000">-0.5</text>
<text transform="translate(77.6,20.4) scale(1,1.28)" text-anchor="end" font-family="Liberation Serif, serif" font-weight="bold" font-size="9.9" fill="#000">-1.0</text>
<line x1="79.9" y1="16.8" x2="78.7" y2="16.8" stroke="#444" stroke-width="0.8"/>
<line x1="79.9" y1="2.4" x2="78.7" y2="2.4" stroke="#444" stroke-width="0.8"/>
<text transform="translate(60.4,21.3) rotate(-90) scale(1.3,1)" font-family="Liberation Serif, serif" font-weight="bold" font-size="7.6" fill="#000">PDOS (states/eV)</text>
</g>
<g>
<rect x="81.9" y="138.5" width="97.9" height="73.7" fill="#fff" stroke="#333" stroke-width="1.15"/>
<g clip-path="url(#clipins2)">
<path d="M81.8,168.3 C82.2,168.2 83.6,167.5 84.3,167.5 C85.0,167.5 85.4,168.4 85.9,168.3 C86.4,168.2 86.8,167.1 87.5,166.7 C88.2,166.3 89.2,166.4 89.9,166.0 C90.6,165.6 91.0,164.4 91.5,164.4 C92.0,164.4 92.6,165.9 93.1,166.0 C93.6,166.1 94.0,165.6 94.7,165.2 C95.4,164.8 96.2,163.9 97.0,163.3 C97.8,162.7 98.6,161.7 99.4,161.7 C100.2,161.7 101.0,162.9 101.8,163.3 C102.6,163.7 103.5,164.0 104.2,163.9 C105.0,163.8 105.6,162.5 106.3,162.8 C107.0,163.2 107.6,164.9 108.2,166.0 C108.8,167.1 109.2,169.0 109.7,169.1 C110.2,169.2 110.7,168.1 111.3,166.7 C111.9,165.2 112.6,161.6 113.2,160.4 C113.8,159.2 114.3,159.3 114.8,159.6 C115.3,159.9 115.7,160.0 116.4,162.0 C117.1,164.0 118.1,169.2 118.9,171.4 C119.7,173.7 120.5,174.8 121.2,175.5 C122.0,176.2 122.9,176.8 123.4,175.5 C123.9,174.2 124.0,171.9 124.2,168.0 C124.5,164.1 124.6,154.9 124.9,152.0 C125.2,149.1 125.6,150.6 125.9,150.6 C126.2,150.6 126.6,149.6 126.9,152.0 C127.2,154.4 127.4,161.1 127.6,165.0 C127.8,168.9 126.7,173.9 128.1,175.7 C129.5,177.5 134.2,176.3 136.0,175.7 C137.8,175.1 138.0,173.2 138.7,172.3 C139.4,171.4 139.8,169.9 140.3,170.2 C140.8,170.5 141.4,173.5 141.9,173.9 C142.4,174.3 142.8,173.2 143.5,172.8 C144.2,172.4 145.0,171.9 145.8,171.2 C146.6,170.4 147.5,169.4 148.2,168.3 C148.9,167.2 149.3,165.5 149.8,164.4 C150.3,163.3 150.9,161.4 151.4,161.7 C151.9,162.0 152.5,164.5 153.0,166.0 C153.5,167.5 153.8,169.4 154.6,170.7 C155.4,172.0 156.8,173.2 157.7,173.9 C158.6,174.7 159.6,175.1 160.2,175.2 C160.8,175.3 160.7,175.6 161.0,174.3 C161.3,173.1 161.5,171.3 161.8,167.7 C162.1,164.1 162.5,157.4 162.7,152.7 C162.9,148.0 162.9,143.4 163.0,139.3 C163.1,135.2 163.1,129.9 163.5,128.0 C163.9,126.1 165.1,126.2 165.5,128.0 C165.9,129.8 165.8,135.8 166.0,138.5 C166.2,141.2 166.5,141.9 166.8,144.3 C167.1,146.7 167.5,151.2 167.7,152.7 C167.9,154.2 167.9,154.1 168.0,153.5 C168.1,152.9 168.3,149.4 168.5,149.3 C168.7,149.2 168.8,149.8 169.0,152.7 C169.2,155.6 169.5,164.3 169.7,166.8 C169.9,169.3 170.0,169.5 170.2,167.7 C170.4,165.9 170.5,159.8 170.7,156.0 C170.9,152.2 171.1,147.1 171.3,145.2 C171.5,143.2 171.6,143.1 171.8,144.3 C172.0,145.6 172.1,149.4 172.3,152.7 C172.5,156.0 172.7,160.7 173.0,164.3 C173.3,167.9 173.6,172.4 174.0,174.3 C174.4,176.2 174.7,175.8 175.2,176.0 C175.7,176.2 176.4,177.7 176.8,175.2 C177.2,172.7 177.4,165.3 177.7,161.0 C178.0,156.7 178.2,152.9 178.5,149.3 C178.8,145.7 179.1,142.9 179.3,139.3 C179.5,135.8 179.6,129.9 179.6,128.0" fill="none" stroke="#ff00ff" stroke-width="1.2" stroke-linejoin="round" stroke-linecap="round" />
<path d="M81.8,180.9 C82.2,181.0 83.5,181.3 84.3,181.7 C85.1,182.1 85.9,183.0 86.7,183.3 C87.5,183.6 88.3,183.1 89.1,183.3 C89.9,183.6 90.7,184.6 91.5,184.8 C92.3,185.1 93.2,184.6 93.9,184.8 C94.6,185.0 94.7,185.3 95.5,186.0 C96.3,186.7 97.7,188.5 98.6,188.8 C99.5,189.1 100.2,188.3 101.0,188.0 C101.8,187.7 102.5,187.5 103.4,187.2 C104.3,186.9 105.8,186.7 106.6,186.4 C107.4,186.1 107.7,186.5 108.2,185.6 C108.7,184.7 109.3,181.6 109.7,180.9 C110.1,180.2 110.1,180.6 110.5,181.7 C110.9,182.8 111.6,185.9 112.1,187.2 C112.6,188.5 113.1,189.1 113.7,189.6 C114.3,190.1 115.3,190.5 115.8,190.4 C116.3,190.3 116.5,190.2 116.9,188.8 C117.4,187.4 118.0,183.7 118.5,181.7 C119.0,179.7 119.1,177.8 119.6,176.9 C120.1,176.0 120.7,176.2 121.7,176.0 C122.7,175.8 124.7,175.7 125.4,176.0 C126.1,176.3 125.8,174.5 126.0,178.0 C126.2,181.5 126.5,191.8 126.7,197.0 C126.9,202.2 127.1,209.0 127.3,209.0 C127.5,209.0 127.7,202.2 127.9,197.0 C128.1,191.8 128.4,181.5 128.7,178.0 C129.0,174.5 128.2,176.3 129.5,176.0 C130.8,175.7 135.0,175.7 136.5,176.2 C138.0,176.7 137.9,178.8 138.5,179.0 C139.1,179.2 139.4,177.9 139.8,177.5 C140.2,177.1 140.8,176.7 141.2,176.5 C141.6,176.3 141.3,175.6 142.0,176.2 C142.7,176.8 144.5,178.5 145.6,179.8 C146.7,181.2 147.4,182.8 148.3,184.3 C149.2,185.8 150.2,188.3 151.0,188.8 C151.8,189.2 152.2,188.3 152.8,187.0 C153.4,185.7 153.9,182.3 154.6,180.7 C155.3,179.0 156.3,177.9 157.2,177.1 C158.2,176.3 159.3,175.8 160.0,175.7 C160.7,175.6 161.3,174.8 161.7,176.2 C162.1,177.7 162.3,180.0 162.6,184.3 C162.9,188.6 163.2,197.2 163.5,202.0 C163.8,206.8 164.0,211.2 164.4,213.0 C164.8,214.8 165.7,214.5 166.2,213.0 C166.7,211.5 166.9,206.4 167.2,204.0 C167.5,201.6 167.7,199.8 168.0,198.6 C168.3,197.4 168.6,195.0 168.9,196.8 C169.2,198.6 169.5,206.6 169.8,209.3 C170.0,212.0 170.3,213.7 170.6,213.0 C170.9,212.3 171.2,208.8 171.5,205.0 C171.8,201.2 172.2,194.5 172.6,190.0 C173.0,185.5 173.6,179.6 174.2,178.0 C174.8,176.4 175.6,177.6 176.0,180.7 C176.4,183.8 176.6,193.7 176.9,196.8 C177.2,199.9 177.5,202.8 177.8,199.5 C178.1,196.2 178.5,180.9 178.7,177.0 C178.9,173.1 179.1,176.2 179.2,176.0" fill="none" stroke="#ff00ff" stroke-width="1.2" stroke-linejoin="round" stroke-linecap="round" />
<path d="M138.9,172.9 L141.5,176.0 L144.6,178.6" fill="none" stroke="#ff00ff" stroke-width="1.0" stroke-linejoin="round" stroke-linecap="round" />
<path d="M138.9,178.6 L141.5,175.6 L144.6,172.9" fill="none" stroke="#ff00ff" stroke-width="1.0" stroke-linejoin="round" stroke-linecap="round" />
</g>
<line x1="81.6" y1="175.8" x2="179.8" y2="175.8" stroke="#222" stroke-width="1.1" stroke-dasharray="2.6 1.6"/>
<line x1="131" y1="138.5" x2="131" y2="212" stroke="#222" stroke-width="1.1" stroke-dasharray="2.6 1.6"/>
<line x1="117.3" y1="148" x2="117.3" y2="155.6" stroke="#4444ff" stroke-width="0.8"/>
<path d="M116.2,148.5 L117.3,145 L118.4,148.5 Z" fill="#2222ff"/>
<line x1="117.4" y1="190.4" x2="117.4" y2="201" stroke="#4444ff" stroke-width="0.8"/>
<path d="M116.3,200.5 L117.4,204 L118.5,200.5 Z" fill="#2222ff"/>
<line x1="81.9" y1="151" x2="80.4" y2="151" stroke="#333" stroke-width="0.9"/>
<line x1="81.9" y1="175.8" x2="80.4" y2="175.8" stroke="#333" stroke-width="0.9"/>
<line x1="81.9" y1="200.3" x2="80.4" y2="200.3" stroke="#333" stroke-width="0.9"/>
<line x1="81.9" y1="163.4" x2="81.0" y2="163.4" stroke="#333" stroke-width="0.8"/>
<line x1="81.9" y1="188.05" x2="81.0" y2="188.05" stroke="#333" stroke-width="0.8"/>
<line x1="81.5" y1="212.2" x2="81.5" y2="210.5" stroke="#333" stroke-width="0.9"/>
<text transform="translate(81.5,223.0) scale(1,1.1)" text-anchor="middle" font-family="Liberation Serif, serif" font-weight="bold" font-size="11" fill="#000">-4</text>
<line x1="106.2" y1="212.2" x2="106.2" y2="210.5" stroke="#333" stroke-width="0.9"/>
<text transform="translate(106.2,223.0) scale(1,1.1)" text-anchor="middle" font-family="Liberation Serif, serif" font-weight="bold" font-size="11" fill="#000">-2</text>
<line x1="130.4" y1="212.2" x2="130.4" y2="210.5" stroke="#333" stroke-width="0.9"/>
<text transform="translate(130.4,223.0) scale(1,1.1)" text-anchor="middle" font-family="Liberation Serif, serif" font-weight="bold" font-size="11" fill="#000">0</text>
<line x1="155.1" y1="212.2" x2="155.1" y2="210.5" stroke="#333" stroke-width="0.9"/>
<text transform="translate(155.1,223.0) scale(1,1.1)" text-anchor="middle" font-family="Liberation Serif, serif" font-weight="bold" font-size="11" fill="#000">2</text>
<line x1="179.8" y1="212.2" x2="179.8" y2="210.5" stroke="#333" stroke-width="0.9"/>
<text transform="translate(179.8,223.0) scale(1,1.1)" text-anchor="middle" font-family="Liberation Serif, serif" font-weight="bold" font-size="11" fill="#000">4</text>
<text transform="translate(79.6,154.4) scale(1,1.1)" text-anchor="end" font-family="Liberation Serif, serif" font-weight="bold" font-size="11" fill="#000">40</text>
<text transform="translate(79.6,179.2) scale(1,1.1)" text-anchor="end" font-family="Liberation Serif, serif" font-weight="bold" font-size="11" fill="#000">0</text>
<text transform="translate(79.6,203.7) scale(1,1.1)" text-anchor="end" font-family="Liberation Serif, serif" font-weight="bold" font-size="11" fill="#000">-40</text>
<text transform="translate(130.6,233.5) scale(1,1.12)" text-anchor="middle" font-family="Liberation Serif, serif" font-weight="bold" font-size="11.3" fill="#000">Energy E-E<tspan font-size="7.2" dy="2.2" font-style="italic">F</tspan><tspan dy="-2.2"> (eV)</tspan></text>
<text transform="translate(63.3,222.3) rotate(-90)" font-family="Liberation Serif, serif" font-weight="bold" font-size="11.7" fill="#000">TDOS (states/eV)</text>
</g>
<defs><clipPath id="clipmain"><rect x="52.8" y="0" width="392.3" height="238.7"/></clipPath><clipPath id="clipins2"><rect x="81.9" y="138.5" width="97.9" height="73.7"/></clipPath><clipPath id="clipins1"><rect x="79.8" y="-30" width="95.5" height="50.4"/></clipPath></defs>
</svg>
</body></html>
